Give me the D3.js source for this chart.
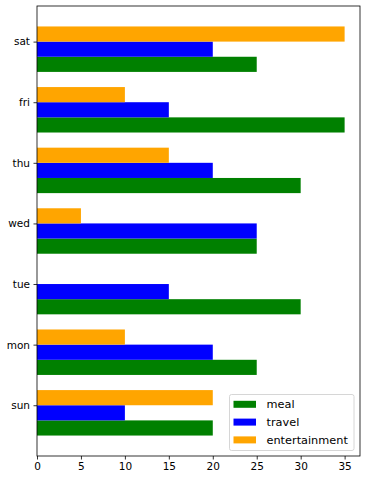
<!DOCTYPE html>
<html><head><meta charset="utf-8">
<script src="https://cdn.jsdelivr.net/npm/d3@7"></script>
<style>body{margin:0;background:#fff}svg{display:block}text{font-family:"DejaVu Sans",sans-serif;font-size:10px;fill:#000}</style>
</head><body><svg id="c" width="366" height="478"></svg>
<script>
const days = ["sun","mon","tue","wed","thu","fri","sat"];
const meal = [20,25,30,25,30,35,25];
const travel = [10,20,15,25,20,15,20];
const entertainment = [20,10,0,5,15,10,35];
const xTicks = [0,5,10,15,20,25,30,35];
const seriesNames = ["meal","travel","entertainment"];
const colors = ["green","blue","orange"];

const svg = d3.select("#c");
const L=37, R=360, T=6, B=456;
const x = d3.scaleLinear().domain([0,36.75]).range([L,R]);
const y = d3.scaleLinear().domain([-0.8375,6.5875]).range([B,T]);
const h = 0.25;
const offs = [-0.5,-0.25,0];
const data = [meal,travel,entertainment];
data.forEach((arr,si)=>{
  svg.append("g").selectAll("rect").data(arr).join("rect")
    .attr("x",x(0))
    .attr("y",(d,i)=>y(i+offs[si]+h))
    .attr("width",d=>x(d)-x(0))
    .attr("height",(d,i)=>y(i+offs[si])-y(i+offs[si]+h))
    .attr("fill",colors[si]);
});
const xa = svg.append("g").attr("transform",`translate(0,${B})`)
  .call(d3.axisBottom(x).tickValues(xTicks).tickSize(3.5).tickPadding(3.5).tickFormat(d3.format("d")));
const ya = svg.append("g").attr("transform",`translate(${L},0)`)
  .call(d3.axisLeft(y).tickValues(d3.range(days.length)).tickSize(3.5).tickPadding(3.5).tickFormat(i=>days[i]));
[xa,ya].forEach(a=>{a.select(".domain").remove();a.selectAll("text").style("font-size","10.5px").style("font-family","DejaVu Sans");a.selectAll("line").attr("stroke","#000").attr("stroke-width",0.8);});
svg.append("rect").attr("x",L).attr("y",T).attr("width",R-L).attr("height",B-T)
  .attr("fill","none").attr("stroke","#000").attr("stroke-width",0.8);
const lg = svg.append("g");
lg.append("rect").attr("x",229.5).attr("y",394.5).attr("width",124.5).attr("height",56)
  .attr("rx",2).attr("fill","#fff").attr("fill-opacity",0.8).attr("stroke","#ccc").attr("stroke-width",0.8);
seriesNames.forEach((n,i)=>{
  const cy = 404.3 + i*17.8;
  lg.append("rect").attr("x",233.5).attr("y",cy-3.5).attr("width",22.5).attr("height",7).attr("fill",colors[i]);
  lg.append("text").attr("x",266.5).attr("y",cy).attr("dy","0.35em").style("font-size","11.3px").text(n);
});
</script></body></html>
